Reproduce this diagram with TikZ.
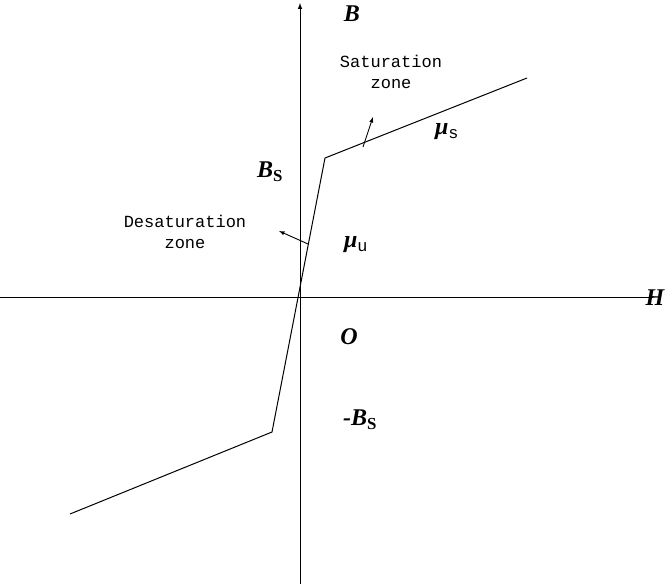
\documentclass[tikz,border=0pt]{standalone}
\usepackage{fontspec}
\setmonofont{Liberation Mono}
\setmainfont{Liberation Serif}
\begin{document}
\begin{tikzpicture}[x=1pt,y=-1pt,
  ax/.style={line width=1pt,-latex},
  crv/.style={line width=1pt},
  ptr/.style={line width=0.9pt,-latex},
  lbl/.style={font=\ttfamily\fontsize{17}{21}\selectfont,align=center},
  sym/.style={font=\bfseries\itshape\fontsize{24}{26}\selectfont}]
\useasboundingbox (0,0) rectangle (672,584);
\coordinate (xl) at (0,297); \coordinate (xr) at (655,297);
\coordinate (yb) at (300,584); \coordinate (yt) at (300,3);
\draw[ax] (xl) -- (xr);
\draw[ax] (yb) -- (yt);
\coordinate (p1) at (70,514); \coordinate (p2) at (272,432);
\coordinate (p3) at (325,158); \coordinate (p4) at (527,78);
\draw[crv] (p1) -- (p2) -- (p3) -- (p4);
\node[sym] (B) at (352,14) {B};
\node[sym] (H) at (655,298) {H};
\node[sym] (O) at (349,337) {O};
\node[sym] (Bs) at (270,172) {B\textsubscript{\upshape S}};
\node[sym] (mBs) at (360,420) {-B\textsubscript{\upshape S}};
\node[sym] (mus) at (447,132) {μ\textsubscript{\ttfamily\mdseries\upshape s}};
\node[sym] (muu) at (356,245) {μ\textsubscript{\ttfamily\mdseries\upshape u}};
\node[lbl] (sat) at (391,72) {Saturation\\zone};
\node[lbl] (des) at (185,232) {Desaturation\\zone};
\coordinate (a1) at (363,147); \coordinate (a2) at (373,117);
\draw[ptr] (a1) -- (a2);
\coordinate (b1) at (308,244); \coordinate (b2) at (279,231);
\draw[ptr] (b1) -- (b2);
\end{tikzpicture}
\end{document}
